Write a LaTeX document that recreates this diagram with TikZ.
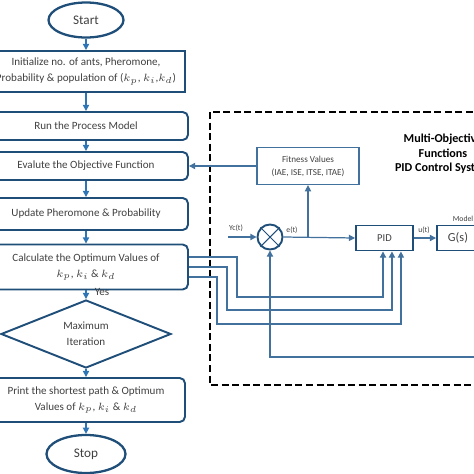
\documentclass[tikz,border=0pt]{standalone}
\usepackage{fontspec}
\setmainfont{Carlito}
\usepackage{xcolor}
\usetikzlibrary{shapes.geometric,arrows.meta}
\definecolor{boxblue}{HTML}{1F4E79}
\definecolor{arrowblue}{HTML}{2E75B6}
\definecolor{lineblue}{HTML}{41719C}
\definecolor{txtgray}{HTML}{404040}

\begin{document}
\begin{tikzpicture}[x=0.02cm, y=-0.02cm,
    every node/.style={text=txtgray, align=center, inner sep=0pt, font=\fontsize{6.3}{9}\selectfont},
    stepbox/.style={draw=boxblue, line width=1.1pt, rounded corners=3pt, minimum width=4.08cm},
    endbox/.style={ellipse, draw=boxblue, line width=1.3pt, font=\fontsize{7.5}{9}\selectfont},
    flow/.style={draw=arrowblue, line width=0.8pt, -{Triangle[length=3.5pt,width=3.5pt]}},
    sig/.style={draw=lineblue, line width=0.7pt, -{Triangle[length=3.5pt,width=3.5pt]}},
    blockbox/.style={draw=boxblue, line width=1.1pt, minimum height=0.5cm},
    small/.style={font=\fontsize{4.4}{5}\selectfont}]
    \useasboundingbox (0,0) rectangle (474,474);
    \clip (0,0) rectangle (474,474);

    % flowchart
    \node[endbox, minimum width=1.5cm, minimum height=0.7cm] (start) at (86,20) {Start};
    \node[draw=boxblue, line width=1.1pt, minimum width=3.96cm, minimum height=0.82cm] (init) at (86,71.5)
        {Initialize no. of ants, Pheromone,\\Probability \& population of ($k_p$,~$k_i$,$k_d$)};
    \node[stepbox, minimum height=0.56cm] (run) at (86,126) {Run the Process Model};
    \node[stepbox, minimum height=0.56cm] (eval) at (86,166) {Evalute the Objective Function};
    \node[stepbox, minimum height=0.64cm] (upd) at (86,214) {Update Pheromone \& Probability};
    \node[stepbox, minimum height=0.9cm] (calc) at (86,267) {Calculate the Optimum Values of\\$k_p$, $k_i$ \& $k_d$};
    \node[diamond, draw=boxblue, line width=1.1pt, aspect=2.5, minimum width=3.4cm, minimum height=1.36cm] (maxit) at (86,334)
        {Maximum\\Iteration};
    \node[stepbox, minimum width=3.96cm, minimum height=0.88cm] (print) at (86,400)
        {Print the shortest path \& Optimum\\Values of $k_p$, $k_i$ \& $k_d$};
    \node[endbox, minimum width=1.58cm, minimum height=0.76cm] (stop) at (86,454) {Stop};

    \draw[flow] (start) -- (init);
    \draw[flow] (init) -- (run);
    \draw[flow] (run) -- (eval);
    \draw[flow] (eval) -- (upd);
    \draw[flow] (upd) -- (calc);
    \draw[flow] (calc) -- (maxit);
    \draw[flow] (maxit) -- (print);
    \draw[flow] (print) -- (stop);
    \node (yes) at (102,292) {Yes};

    % PID control system
    \draw[line width=1.2pt, dash pattern=on 4pt off 2pt] (210,112) rectangle (490,385);
    \node[font=\bfseries\fontsize{6.9}{8.2}\selectfont, text=black] (title) at (443,154)
        {Multi-Objective\\Functions\\PID Control System};
    \node[draw=lineblue, line width=0.7pt, minimum width=2.04cm, minimum height=0.74cm, font=\fontsize{5.2}{7.4}\selectfont] (fit) at (308,166)
        {Fitness Values\\(IAE, ISE, ITSE, ITAE)};
    \node[circle, draw=boxblue, line width=1.1pt, minimum size=0.5cm] (sum) at (270,237) {};
    \draw[boxblue, line width=0.6pt] (sum.north west) -- (sum.south east);
    \draw[boxblue, line width=0.6pt] (sum.north east) -- (sum.south west);
    \node[blockbox, minimum width=1.14cm, font=\fontsize{6}{7}\selectfont] (pid) at (384.5,238) {PID};
    \node[blockbox, minimum width=0.84cm, font=\fontsize{7}{8}\selectfont] (gs) at (458,238) {G(s)};
    \coordinate (yc) at (228,237);
    \coordinate (out) at (490,357);
    \node[small] (yclab) at (236,228) {Yc(t)};
    \node[small] (elab) at (292,230) {e(t)};
    \node[small] (ulab) at (424,230) {u(t)};
    \node[small] (model) at (463,219) {Model};

    \draw[sig] (yc) -- (sum.west);
    \draw[sig] (sum.east) -- (pid.west);
    \draw[sig] (fit.south |- sum.east) -- (fit.south);
    \draw[sig] (fit.west) -- (fit.west -| eval.east);
    \draw[sig] (pid.east) -- (gs.west);
    \draw[sig] (out) -| (sum.south);
    \draw[sig] ([yshift=5.7pt]calc.east) -| (237,297) -| ([xshift=-0.85pt]pid.south);
    \draw[sig] (calc.east) -| (227,310) -| ([xshift=4.25pt]pid.south);
    \draw[sig] ([yshift=-5.7pt]calc.east) -| (217,324) -| ([xshift=9.35pt]pid.south);
\end{tikzpicture}
\end{document}
